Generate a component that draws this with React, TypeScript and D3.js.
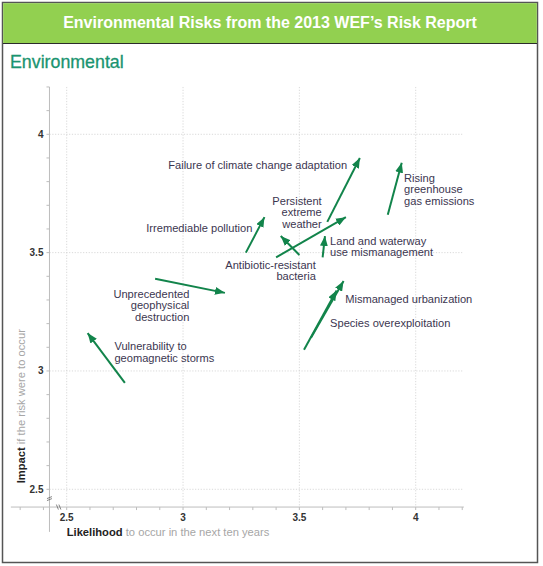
import React from "react";
import * as d3 from "d3";

// risks, 2012 position -> 2013 position (likelihood, impact)
const risks = [
  "Vulnerability to geomagnetic storms",
  "Unprecedented geophysical destruction",
  "Irremediable pollution",
  "Persistent extreme weather",
  "Antibiotic-resistant bacteria",
  "Failure of climate change adaptation",
  "Rising greenhouse gas emissions",
  "Land and waterway use mismanagement",
  "Mismanaged urbanization",
  "Species overexploitation",
];
const likelihoodFrom = [2.75, 2.88, 3.27, 3.4, 3.5, 3.62, 3.88, 3.6, 3.55, 3.52];
const impactFrom = [2.95, 3.39, 3.5, 3.48, 3.49, 3.63, 3.66, 3.48, 3.14, 3.09];
const likelihoodTo = [2.59, 3.18, 3.35, 3.7, 3.42, 3.76, 3.94, 3.61, 3.69, 3.66];
const impactTo = [3.16, 3.33, 3.65, 3.65, 3.57, 3.9, 3.88, 3.57, 3.38, 3.34];

const majorTicks = [2.5, 3, 3.5, 4];
const tickLabels = ["2.5", "3", "3.5", "4"];

// label placement (data coords of first baseline)
const labelLayout = [
  { lines: ["Vulnerability to", "geomagnetic storms"], x: 2.705, y: 3.087, anchor: "start" },
  { lines: ["Unprecedented", "geophysical", "destruction"], x: 3.027, y: 3.31, anchor: "end" },
  { lines: ["Irremediable pollution"], x: 3.298, y: 3.588, anchor: "end" },
  { lines: ["Persistent", "extreme", "weather"], x: 3.596, y: 3.702, anchor: "end" },
  { lines: ["Antibiotic-resistant", "bacteria"], x: 3.571, y: 3.432, anchor: "end" },
  { lines: ["Failure of climate change adaptation"], x: 3.705, y: 3.854, anchor: "end" },
  { lines: ["Rising", "greenhouse", "gas emissions"], x: 3.95, y: 3.799, anchor: "start" },
  { lines: ["Land and waterway", "use mismanagement"], x: 3.632, y: 3.534, anchor: "start" },
  { lines: ["Mismanaged urbanization"], x: 3.697, y: 3.289, anchor: "start" },
  { lines: ["Species overexploitation"], x: 3.632, y: 3.184, anchor: "start" },
];

const W = 543;
const H = 566;
const font = "'Liberation Sans', Arial, sans-serif";
const arrowColor = "#12844b";

export default function App() {
  const x = d3.scaleLinear().domain([2.5, 4]).range([66.7, 415.7]);
  const y = d3.scaleLinear().domain([2.5, 4]).range([489.3, 134.3]);

  const minor = d3.range(25, 43).map((d) => d / 10);
  const xMinor = d3.range(23, 43).map((d) => d / 10);
  const xAxisY = y(2.425);
  const yAxisX = x(2.426);

  return (
    <div style={{ position: "absolute", left: 0, top: 0 }}>
      <svg width={W} height={H} style={{ display: "block" }} fontFamily={font}>
        <defs>
          <marker
            id="head"
            viewBox="0 0 10 8"
            refX="10"
            refY="4"
            markerWidth="10"
            markerHeight="8"
            markerUnits="userSpaceOnUse"
            orient="auto"
          >
            <path d="M0,0 L10,4 L0,8 Z" fill={arrowColor} />
          </marker>
        </defs>
        <rect x={0} y={0} width={W} height={H} fill="#fff" />
        <rect x={2.5} y={2.5} width={535} height={560} fill="#fff" stroke="#555" strokeWidth={1.5} />
        <rect x={3.2} y={3.2} width={533.6} height={40} fill="#92d050" />
        <line x1={3} x2={537} y1={43.5} y2={43.5} stroke="#2b2b2b" strokeWidth={1.2} />
        <text x={270} y={28} textAnchor="middle" fill="#fff" fontSize={16} fontWeight="bold">
          Environmental Risks from the 2013 WEF’s Risk Report
        </text>
        <text x={10} y={68} fill="#1a9470" fontSize={17.8} stroke="#1a9470" strokeWidth={0.3}>
          Environmental
        </text>

        {/* grid */}
        <g stroke="#cfcfcf" strokeWidth={0.8} strokeDasharray="1.2,1.6">
          {majorTicks.map((t) => (
            <line key={"gx" + t} x1={x(t)} x2={x(t)} y1={y(4.2)} y2={xAxisY} />
          ))}
          {majorTicks.map((t) => (
            <line key={"gy" + t} x1={yAxisX} x2={x(4.2)} y1={y(t)} y2={y(t)} />
          ))}
        </g>

        {/* axes */}
        <g stroke="#bdbdbd" strokeWidth={1}>
          <line x1={yAxisX} x2={yAxisX} y1={y(4.2)} y2={y(2.32)} />
          <line x1={x(2.26)} x2={x(4.207)} y1={xAxisY} y2={xAxisY} />
          {minor.map((t) => (
            <line key={"ty" + t} x1={yAxisX - 3} x2={yAxisX} y1={y(t)} y2={y(t)} />
          ))}
          {xMinor.map((t) => (
            <line key={"tx" + t} x1={x(t)} x2={x(t)} y1={xAxisY} y2={xAxisY + 3} />
          ))}
        </g>
        {/* axis break marks */}
        <g stroke="#666" strokeWidth={0.8}>
          <line x1={yAxisX - 2.5} x2={yAxisX + 2.5} y1={y(2.465) + 1} y2={y(2.465) - 1} />
          <line x1={yAxisX - 2.5} x2={yAxisX + 2.5} y1={y(2.465) + 3} y2={y(2.465) + 1} />
          <line x1={x(2.46) - 1} x2={x(2.46) + 1} y1={xAxisY - 2.5} y2={xAxisY + 2.5} />
          <line x1={x(2.46) + 1.5} x2={x(2.46) + 3.5} y1={xAxisY - 2.5} y2={xAxisY + 2.5} />
        </g>

        {/* tick labels */}
        <g fontSize={10} fontWeight="bold" fill="#333">
          {majorTicks.map((t, i) => (
            <text key={"lx" + t} x={x(t)} y={xAxisY + 14} textAnchor="middle">
              {tickLabels[i]}
            </text>
          ))}
          {majorTicks.map((t, i) => (
            <text key={"ly" + t} x={yAxisX - 6} y={y(t) + 3.5} textAnchor="end">
              {tickLabels[i]}
            </text>
          ))}
        </g>

        {/* axis titles */}
        <text x={x(2.5)} y={xAxisY + 29} fontSize={11.2} fill="#a6a6a6">
          <tspan fill="#222" fontWeight="bold">Likelihood</tspan> to occur in the next ten years
        </text>
        <text
          transform={`translate(25,${y(2.5) - 6}) rotate(-90)`}
          fontSize={11.2}
          fill="#a6a6a6"
        >
          <tspan fill="#222" fontWeight="bold">Impact</tspan> if the risk were to occur
        </text>

        {/* arrows */}
        <g stroke={arrowColor} strokeWidth={2} fill="none">
          {risks.map((r, i) => (
            <line
              key={r}
              x1={x(likelihoodFrom[i])}
              y1={y(impactFrom[i])}
              x2={x(likelihoodTo[i])}
              y2={y(impactTo[i])}
              markerEnd="url(#head)"
            />
          ))}
        </g>

        {/* labels */}
        <g fontSize={11.1} fill="#3b3650">
          {labelLayout.map((l, i) => (
            <text key={i} x={x(l.x)} y={y(l.y)} textAnchor={l.anchor}>
              {l.lines.map((s, j) => (
                <tspan key={j} x={x(l.x)} dy={j === 0 ? 0 : 11.5}>
                  {s}
                </tspan>
              ))}
            </text>
          ))}
        </g>
      </svg>
    </div>
  );
}
